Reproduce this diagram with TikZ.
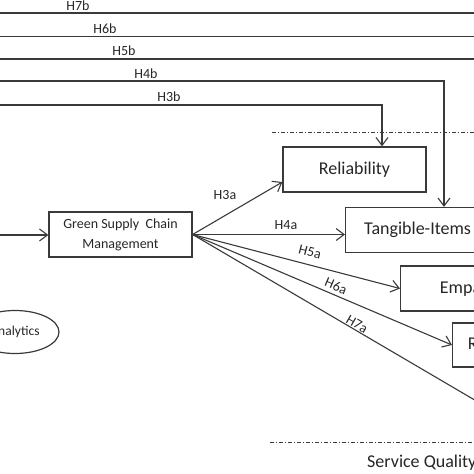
\documentclass[tikz,border=0pt]{standalone}
\usepackage{fontspec}
\setmainfont{Carlito}
\usetikzlibrary{arrows.meta,shapes.geometric}
\definecolor{ln}{HTML}{3A3A3A}
\definecolor{tx}{HTML}{262626}
\tikzset{
  box/.style={draw=ln, line width=1.2pt, rectangle, minimum height=45pt, inner sep=0pt, text=tx, font=\fontsize{18}{20}\selectfont},
  lbl/.style={text=tx, inner sep=0pt, font=\fontsize{14}{15}\selectfont},
  conn/.style={draw=ln, line width=1.1pt, -{Straight Barb[length=8pt,width=12pt]}},
  plain/.style={draw=ln, line width=1.1pt},
  dd/.style={draw=ln, line width=1pt, dash pattern=on 4pt off 2pt on 1pt off 2pt}
}
\begin{document}
\begin{tikzpicture}[x=1pt,y=-1pt]
\useasboundingbox (0,0) rectangle (474,474);
\clip (0,0) rectangle (474,474);
% boxes
\node[box, minimum width=143pt] (rel) at (354.5,169.5) {Reliability};
\node[box, minimum width=144pt, anchor=west] (tan) at (345,230) {Tangible-Items};
\node[box, minimum width=143pt, font=\fontsize{14}{20}\selectfont, align=center] (gscm) at (120.5,234.5) {Green Supply\ \ Chain\\Management};
\node[box, minimum width=143pt, anchor=west] (emp) at (400,288.5) {Empathy};
\node[box, minimum width=145pt, minimum height=44pt, anchor=west] (resp) at (452,345) {Responsiveness};
\node[draw=ln, line width=1.2pt, ellipse, minimum width=88pt, minimum height=43pt, inner sep=0pt, text=tx, font=\fontsize{13.5}{15}\selectfont] (bda) at (15,332) {Analytics};
\node[text=tx, anchor=west, inner sep=0pt, font=\fontsize{18}{20}\selectfont] (sq) at (367,463) {Service Quality};
% free ends
\coordinate (l7) at (-5,13);
\coordinate (r7) at (480,13);
\coordinate (l6) at (-5,36.5);
\coordinate (r6) at (480,36.5);
\coordinate (l5) at (-5,59);
\coordinate (r5) at (480,59);
\coordinate (l4) at (-5,81);
\coordinate (c4) at (444,81);
\coordinate (l3) at (-5,105);
\coordinate (c3) at (382,105);
\coordinate (lin) at (-5,235);
\coordinate (asr) at (490,409);
\coordinate (d1a) at (272,132);
\coordinate (d1b) at (480,132);
\coordinate (d2a) at (270,442);
\coordinate (d2b) at (480,442);
% top lines
\draw[plain] (l7) -- (r7);
\draw[plain] (l6) -- (r6);
\draw[plain] (l5) -- (r5);
\draw[conn] (l4) -- (c4) -- (c4 |- tan.north);
\draw[conn] (l3) -- (c3) -- (c3 |- rel.north);
% dash-dot separators
\draw[dd] (d1a) -- (d1b);
\draw[dd] (d2a) -- (d2b);
% input to GSCM
\draw[conn] (lin) -- (gscm.west |- lin);
% hypotheses a
\draw[conn] (gscm.east) -- ([yshift=-12.5pt]rel.west);
\draw[conn] (gscm.east) -- (gscm.east -| tan.west);
\draw[conn] (gscm.east) -- (emp.west);
\draw[conn] (gscm.east) -- (resp.west);
\draw[conn] (gscm.east) -- (asr);
% labels
\node[lbl] (h7b) at (78,5.5) {H7b};
\node[lbl] (h6b) at (105,28.5) {H6b};
\node[lbl] (h5b) at (124,50.5) {H5b};
\node[lbl] (h4b) at (146,73.5) {H4b};
\node[lbl] (h3b) at (169,96.5) {H3b};
\node[lbl] (h3a) at (225,195) {H3a};
\node[lbl] (h4a) at (286,225) {H4a};
\node[lbl, rotate=-14.3] (h5a) at (310,252) {H5a};
\node[lbl, rotate=-22.8] (h6a) at (336,286) {H6a};
\node[lbl, rotate=-30.3] (h7a) at (357,324) {H7a};
\end{tikzpicture}
\end{document}
